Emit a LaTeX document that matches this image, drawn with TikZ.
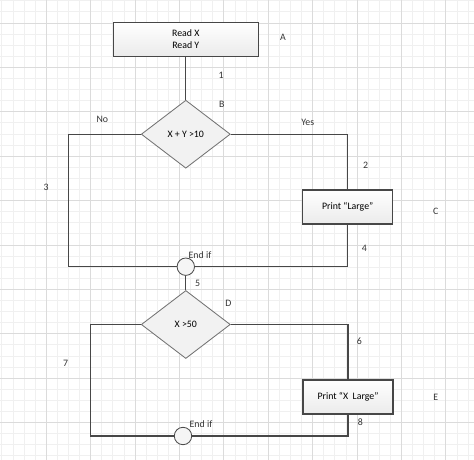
\documentclass[tikz,border=0pt]{standalone}
\usepackage{fontspec}
\setmainfont{Carlito}
\usetikzlibrary{shapes.geometric}

\tikzset{
  gridminor/.style={gray!12, line width=0.4pt},
  gridmajor/.style={gray!28, line width=0.4pt},
  flowline/.style={black!72, line width=0.8pt},
  procbox/.style={rectangle, draw=black!72, line width=0.8pt, top color=white, bottom color=gray!16,
    minimum width=2.25cm, minimum height=0.85cm, align=center, inner sep=1pt},
  decision/.style={diamond, draw=black!55, line width=0.6pt, fill=gray!10,
    minimum width=2.225cm, minimum height=1.7cm, inner sep=0pt},
  joint/.style={circle, draw=black!70, line width=0.6pt, fill=gray!8, minimum size=0.435cm, inner sep=0pt},
  tag/.style={text=black!80, inner sep=0pt},
}

\begin{document}
\begin{tikzpicture}[x=0.025cm, y=-0.025cm, font=\fontsize{7}{8.6}\selectfont]
\useasboundingbox (0,0) rectangle (474,460);

% grid paper
\foreach \i in {0,...,42} \draw[gridminor] (1.7+11.1*\i,0) -- (1.7+11.1*\i,460);
\foreach \j in {0,...,41} \draw[gridminor] (0,0.6+11.1*\j) -- (474,0.6+11.1*\j);
\foreach \i in {4,8,...,40} \draw[gridmajor] (1.7+11.1*\i,0) -- (1.7+11.1*\i,460);
\foreach \j in {2,6,...,38} \draw[gridmajor] (0,0.6+11.1*\j) -- (474,0.6+11.1*\j);

% first test
\node[procbox, minimum width=3.625cm] (readxy) at (185.8,39.3) {Read X\\Read Y};
\node[decision] (test1) at (185.8,134.2) {X + Y >10};
\node[procbox] (large) at (347.7,207) {Print “Large”};
\node[joint] (endif1) at (185.8,266.7) {};
\coordinate (loop1) at (68.3,134.2);

\draw[flowline] (readxy) -- (test1);
\draw[flowline] (test1.west) -- (loop1) |- (endif1);
\draw[flowline] (test1.east) -| (large);
\draw[flowline] (large) |- (endif1);

% second test
\node[decision] (test2) at (185.8,324.5) {X >50};
\node[procbox] (xlarge) at (348,397) {Print “X\ \ Large”};
\node[joint] (endif2) at (183,436) {};
\coordinate (loop2) at (90.7,324.5);

\draw[flowline] (endif1) -- (test2);
\draw[flowline] (test2.west) -- (loop2) |- (endif2);
\draw[flowline] (test2.east) -| (xlarge);
\draw[flowline] (xlarge) |- (endif2);

% labels
\node[tag] (tagA) at (283,37) {A};
\node[tag] (tagB) at (221.7,104) {B};
\node[tag] (tagC) at (435.7,211) {C};
\node[tag] (tagD) at (228.3,303.3) {D};
\node[tag] (tagE) at (435.7,397.3) {E};
\node[tag] (num1) at (221,75) {1};
\node[tag] (num2) at (365.7,165) {2};
\node[tag] (num3) at (46,187) {3};
\node[tag] (num4) at (364.3,248.3) {4};
\node[tag] (num5) at (197.7,283.3) {5};
\node[tag] (num6) at (359.3,341.7) {6};
\node[tag] (num7) at (65.7,363.3) {7};
\node[tag] (num8) at (360.3,421.7) {8};
\node[tag] (no) at (102.3,119.3) {No};
\node[tag] (yes) at (307.7,122.7) {Yes};
\node[tag] (endifA) at (200,255) {End if};
\node[tag] (endifB) at (201,424) {End if};
\end{tikzpicture}
\end{document}
